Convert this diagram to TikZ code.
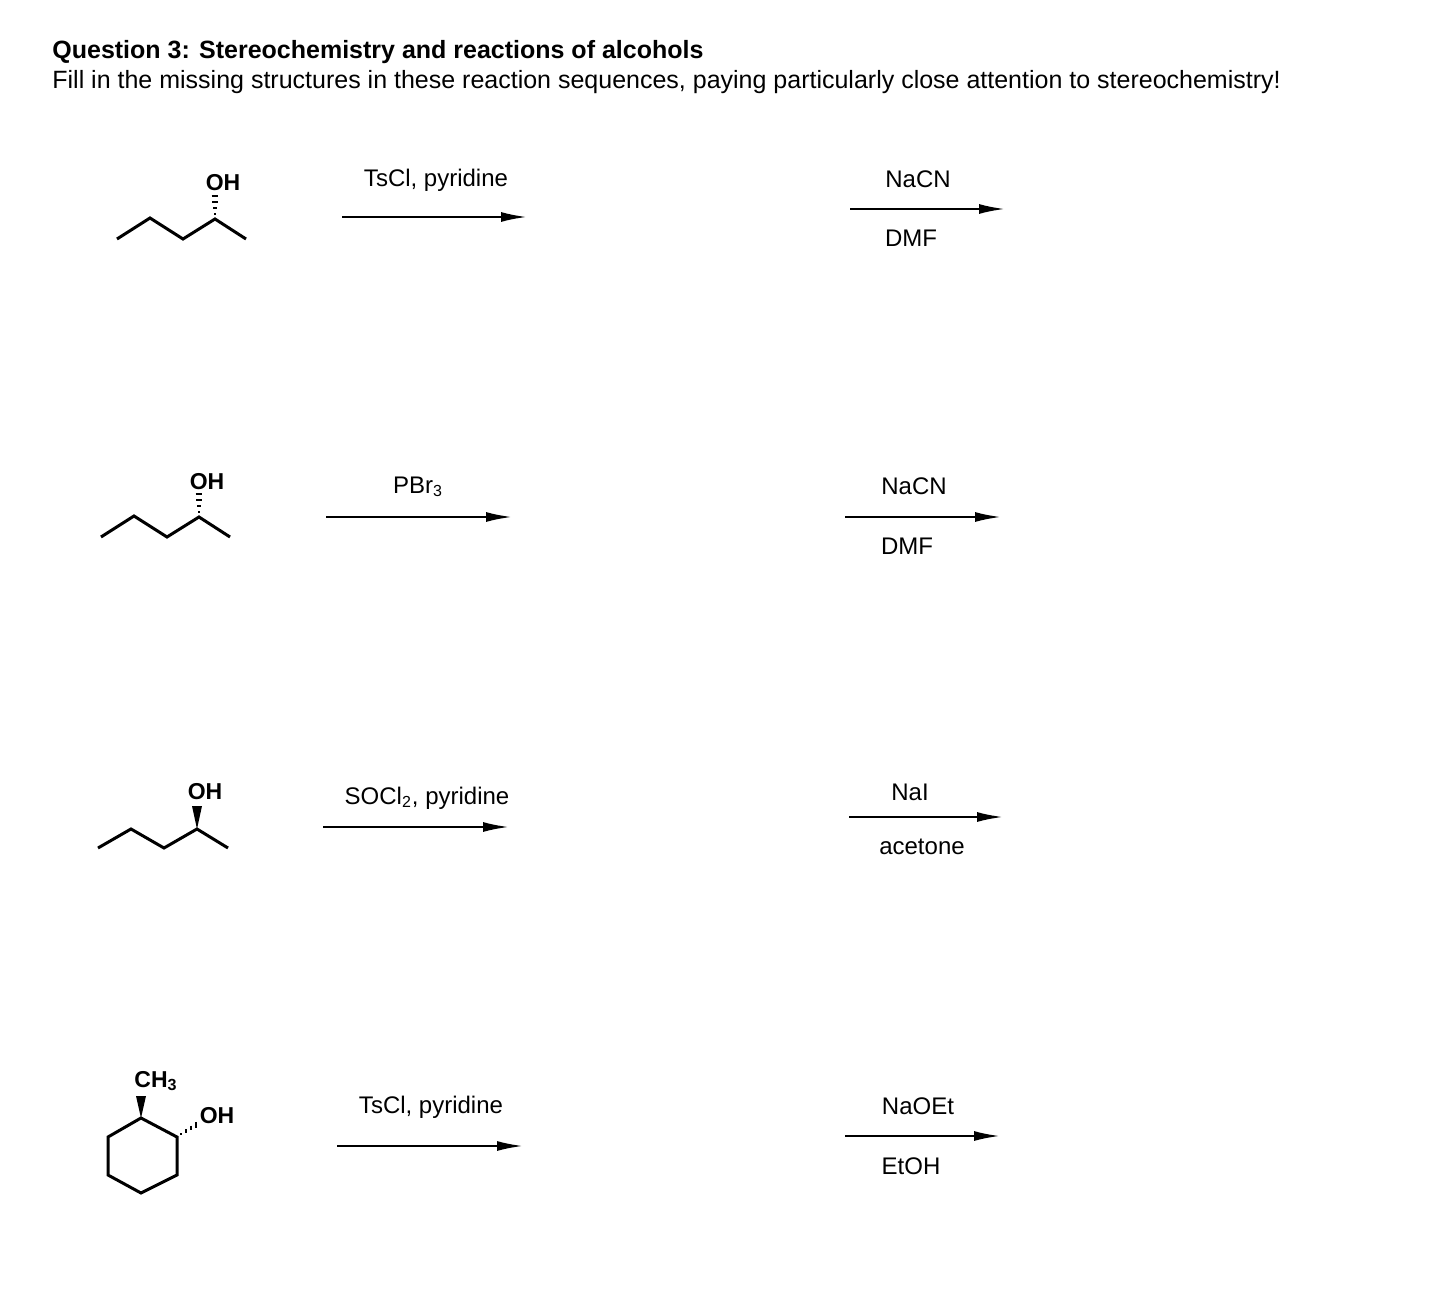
\documentclass[tikz,border=0pt]{standalone}
\usepackage{fontspec}
\setmainfont{Liberation Sans}
\usetikzlibrary{arrows.meta}
\begin{document}
\begin{tikzpicture}[x=0.5pt,y=-0.5pt,
  bond/.style={line width=1.5pt,line join=miter},
  rxn/.style={line width=1.1pt,-{Latex[length=13pt,width=5pt]}},
  lbl/.style={font=\fontsize{12}{14}\selectfont,inner sep=0pt},
  atom/.style={font=\bfseries\fontsize{11.5}{14}\selectfont,inner sep=0pt}]
\useasboundingbox (0,0) rectangle (1440,1294);
\node[anchor=base west,font=\bfseries\fontsize{12.5}{15}\selectfont,inner sep=0pt] (t1) at (52,59) {Question 3: Stereochemistry and reactions of alcohols};
\node[anchor=base west,font=\fontsize{12.5}{15}\selectfont,inner sep=0pt] (t2) at (52,89) {Fill in the missing structures in these reaction sequences, paying particularly close attention to stereochemistry!};
% molecule 1
\draw[bond] (117,239)--(150,218)--(183,239)--(215,219)--(246,239);
\node[atom] (oh1) at (223,183) {OH};
\foreach \i in {0,...,3} \draw[line width=1pt] ({215-1-0.8*\i},{219-5-6*\i})--({215+1+0.8*\i},{219-5-6*\i});
% molecule 2
\draw[bond] (101,537)--(134,516)--(167,537)--(199,517)--(230,537);
\node[atom] (oh2) at (207,482) {OH};
\foreach \i in {0,...,3} \draw[line width=1pt] ({199-1-0.8*\i},{517-5-6*\i})--({199+1+0.8*\i},{517-5-6*\i});
% molecule 3
\draw[bond] (98,848)--(131,829)--(164,848)--(197,829)--(228,848);
\node[atom] (oh3) at (205,792) {OH};
\fill (197,829)--(192,806)--(202,806)--cycle;
% molecule 4
\draw[bond] (141,1118)--(177,1137)--(177,1175)--(141,1193)--(108,1175)--(108,1137)--cycle;
\node[atom] (ch3) at (156,1081) {CH\textsubscript{3}};
\fill (141,1118)--(136,1096)--(146,1096)--cycle;
\node[atom] (oh4) at (217,1116) {OH};
\foreach \i in {0,...,3} \draw[line width=1pt] ({177+4+5*\i},{1137-3-3*\i-1-0.7*\i})--({177+4+5*\i},{1137-3-3*\i+1+0.7*\i});
% arrows row 1
\coordinate (a1s) at (342,217); \coordinate (a1e) at (527,217);
\draw[rxn] (a1s)--(a1e);
\node[lbl] (r1a) at (436,180) {TsCl, pyridine};
\coordinate (b1s) at (850,209); \coordinate (b1e) at (1005,209);
\draw[rxn] (b1s)--(b1e);
\node[lbl] (r1b) at (918,179) {NaCN};
\node[lbl] (r1c) at (911,238) {DMF};
% row 2
\coordinate (a2s) at (326,517); \coordinate (a2e) at (512,517);
\draw[rxn] (a2s)--(a2e);
\node[lbl] (r2a) at (418,487) {PBr\textsubscript{3}};
\coordinate (b2s) at (845,517); \coordinate (b2e) at (1001,517);
\draw[rxn] (b2s)--(b2e);
\node[lbl] (r2b) at (914,486) {NaCN};
\node[lbl] (r2c) at (907,546) {DMF};
% row 3
\coordinate (a3s) at (323,827); \coordinate (a3e) at (509,827);
\draw[rxn] (a3s)--(a3e);
\node[lbl] (r3a) at (427,798) {SOCl\textsubscript{2}, pyridine};
\coordinate (b3s) at (849,817); \coordinate (b3e) at (1003,817);
\draw[rxn] (b3s)--(b3e);
\node[lbl] (r3b) at (910,792) {NaI};
\node[lbl] (r3c) at (922,847) {acetone};
% row 4
\coordinate (a4s) at (337,1146); \coordinate (a4e) at (523,1146);
\draw[rxn] (a4s)--(a4e);
\node[lbl] (r4a) at (431,1107) {TsCl, pyridine};
\coordinate (b4s) at (845,1136); \coordinate (b4e) at (1000,1136);
\draw[rxn] (b4s)--(b4e);
\node[lbl] (r4b) at (918,1106) {NaOEt};
\node[lbl] (r4c) at (911,1166) {EtOH};
\end{tikzpicture}
\end{document}
